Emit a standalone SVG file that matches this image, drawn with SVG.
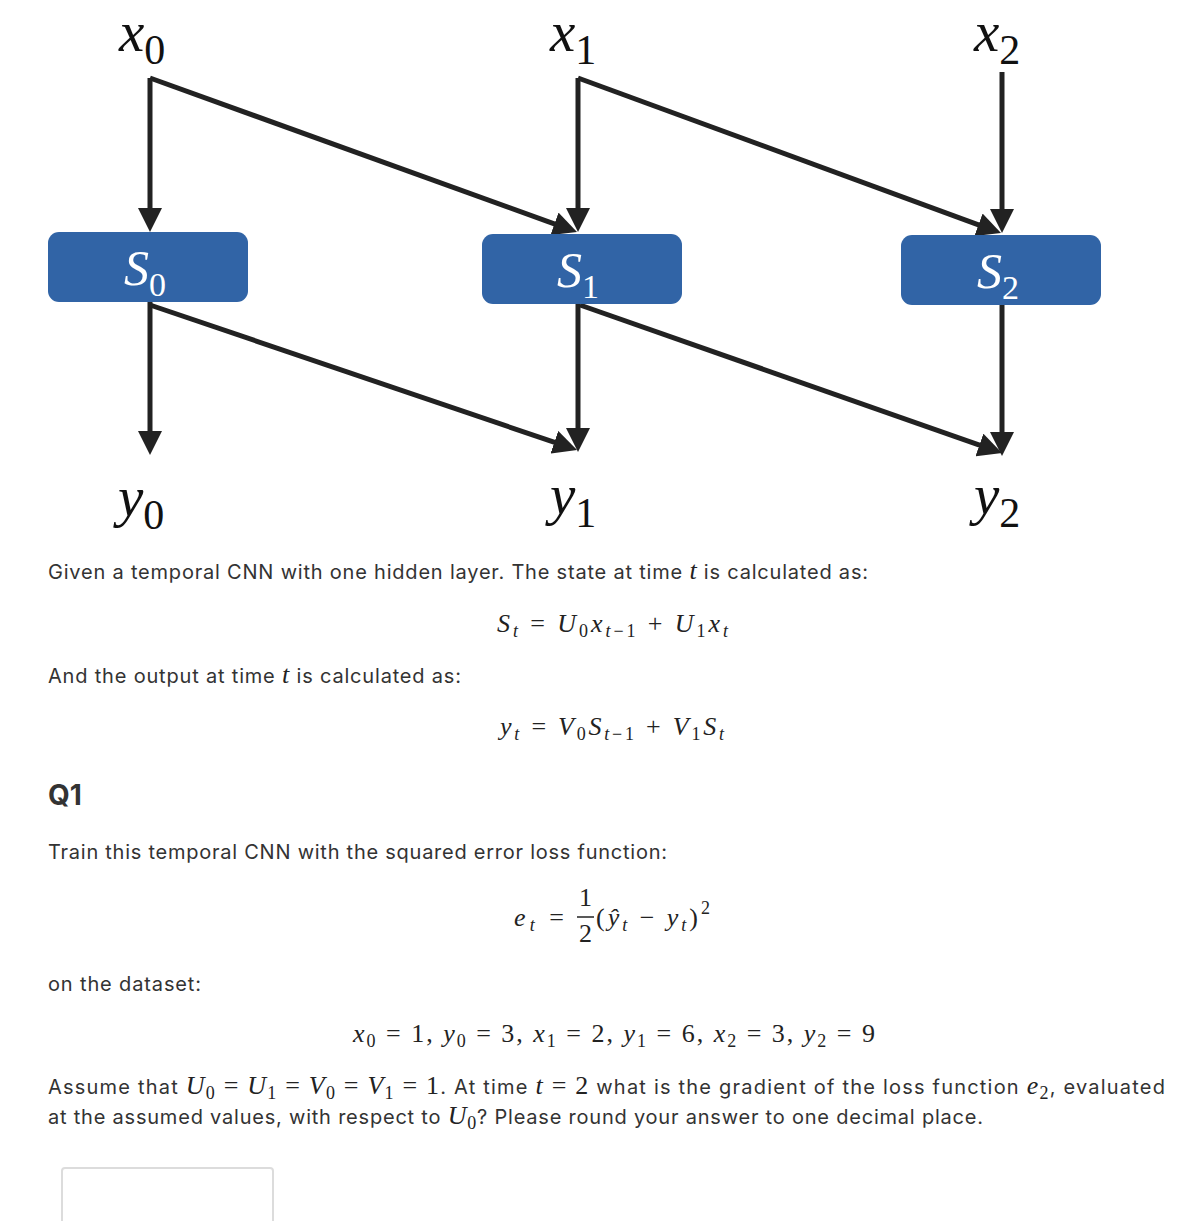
<svg xmlns="http://www.w3.org/2000/svg" width="1200" height="1221" viewBox="0 0 1200 1221">
<style>
.bg{fill:#ffffff}
.box{fill:#3164a6}
.conn{stroke:#222;stroke-width:5;fill:none}
.lbl{font-family:"Liberation Serif",serif;font-style:italic;fill:#111;font-size:57px}
.sub{font-style:normal;font-size:42px}
.slbl{font-family:"Liberation Serif",serif;font-style:italic;fill:#fff;font-size:50px}
.ssub{font-style:normal;font-size:34px}
.txt{font-family:Inter,"Liberation Sans",sans-serif;font-size:20px;fill:#333}
.q{font-family:Inter,"Liberation Sans",sans-serif;font-size:28px;font-weight:bold;fill:#333}
.m{font-family:"Liberation Serif",serif;font-size:26px;fill:#222}
.mi{font-style:italic}
.ms{font-size:18px}
.input{fill:#fff;stroke:#dcdcdc;stroke-width:2}
</style>
<defs>
<marker id="ah" markerUnits="userSpaceOnUse" markerWidth="24" markerHeight="24" refX="16" refY="12" orient="auto">
<path d="M0,0 L24,12 L0,24 z" fill="#222"/>
</marker>
</defs>
<rect class="bg" x="0" y="0" width="1200" height="1221"/>

<g id="connectors">
<path class="conn" d="M150,78 L150,224" marker-end="url(#ah)"/>
<path class="conn" d="M150,78 L569.5,229.3" marker-end="url(#ah)"/>
<path class="conn" d="M578,78 L578,224" marker-end="url(#ah)"/>
<path class="conn" d="M578,78 L993.5,230.3" marker-end="url(#ah)"/>
<path class="conn" d="M1002,72 L1002,225" marker-end="url(#ah)"/>
<path class="conn" d="M150,302 L150,447" marker-end="url(#ah)"/>
<path class="conn" d="M150,305 L569.5,447.4" marker-end="url(#ah)"/>
<path class="conn" d="M578,304 L578,444" marker-end="url(#ah)"/>
<path class="conn" d="M580,305 L994.5,450.3" marker-end="url(#ah)"/>
<path class="conn" d="M1002,305 L1002,448" marker-end="url(#ah)"/>
</g>

<g id="x0"><text class="lbl" x="119" y="51">x<tspan class="sub" dy="13">0</tspan></text></g>
<g id="x1"><text class="lbl" x="550" y="51">x<tspan class="sub" dy="13">1</tspan></text></g>
<g id="x2"><text class="lbl" x="974" y="51">x<tspan class="sub" dy="13">2</tspan></text></g>

<g id="S0"><rect class="box" x="48" y="232" width="200" height="70" rx="11"/><text class="slbl" x="124" y="285">S<tspan class="ssub" dy="11">0</tspan></text></g>
<g id="S1"><rect class="box" x="482" y="234" width="200" height="70" rx="11"/><text class="slbl" x="557" y="287">S<tspan class="ssub" dy="11">1</tspan></text></g>
<g id="S2"><rect class="box" x="901" y="235" width="200" height="70" rx="11"/><text class="slbl" x="977" y="288">S<tspan class="ssub" dy="11">2</tspan></text></g>

<g id="y0"><text class="lbl" x="118" y="516">y<tspan class="sub" dy="13">0</tspan></text></g>
<g id="y1"><text class="lbl" x="550" y="514">y<tspan class="sub" dy="13">1</tspan></text></g>
<g id="y2"><text class="lbl" x="974" y="514">y<tspan class="sub" dy="13">2</tspan></text></g>

<g id="text">
<text class="txt" x="48" y="579" textLength="820" lengthAdjust="spacing">Given a temporal CNN with one hidden layer. The state at time <tspan class="m mi">t</tspan> is calculated as:</text>
<text class="m" x="497" y="632" textLength="231" lengthAdjust="spacing"><tspan class="mi">S</tspan><tspan class="mi ms" dy="5">t</tspan><tspan dy="-5"> = </tspan><tspan class="mi">U</tspan><tspan class="ms" dy="5">0</tspan><tspan class="mi" dy="-5">x</tspan><tspan class="ms" dy="5"><tspan class="mi">t</tspan>−1</tspan><tspan dy="-5"> + </tspan><tspan class="mi">U</tspan><tspan class="ms" dy="5">1</tspan><tspan class="mi" dy="-5">x</tspan><tspan class="mi ms" dy="5">t</tspan></text>
<text class="txt" x="48" y="683" textLength="413" lengthAdjust="spacing">And the output at time <tspan class="m mi">t</tspan> is calculated as:</text>
<text class="m" x="500" y="735" textLength="224" lengthAdjust="spacing"><tspan class="mi">y</tspan><tspan class="mi ms" dy="5">t</tspan><tspan dy="-5"> = </tspan><tspan class="mi">V</tspan><tspan class="ms" dy="5">0</tspan><tspan class="mi" dy="-5">S</tspan><tspan class="ms" dy="5"><tspan class="mi">t</tspan>−1</tspan><tspan dy="-5"> + </tspan><tspan class="mi">V</tspan><tspan class="ms" dy="5">1</tspan><tspan class="mi" dy="-5">S</tspan><tspan class="mi ms" dy="5">t</tspan></text>
<text class="q" x="48" y="805">Q1</text>
<text class="txt" x="48" y="859" textLength="619" lengthAdjust="spacing">Train this temporal CNN with the squared error loss function:</text>
<text class="m" x="514" y="926" textLength="50" lengthAdjust="spacing"><tspan class="mi">e</tspan><tspan class="mi ms" dy="5">t</tspan><tspan dy="-5"> =</tspan></text>
<text class="m" x="579" y="906">1</text>
<line x1="577" y1="917" x2="594" y2="917" stroke="#222" stroke-width="1.5"/>
<text class="m" x="579" y="942">2</text>
<text class="m" x="596" y="926" textLength="114" lengthAdjust="spacing">(<tspan class="mi">ŷ</tspan><tspan class="mi ms" dy="5">t</tspan><tspan dy="-5"> − </tspan><tspan class="mi">y</tspan><tspan class="mi ms" dy="5">t</tspan><tspan dy="-5">)</tspan><tspan class="ms" dy="-12">2</tspan></text>
<text class="txt" x="48" y="991" textLength="153" lengthAdjust="spacing">on the dataset:</text>
<text class="m" x="353" y="1042" textLength="522" lengthAdjust="spacing"><tspan class="mi">x</tspan><tspan class="ms" dy="5">0</tspan><tspan dy="-5"> = 1, </tspan><tspan class="mi">y</tspan><tspan class="ms" dy="5">0</tspan><tspan dy="-5"> = 3, </tspan><tspan class="mi">x</tspan><tspan class="ms" dy="5">1</tspan><tspan dy="-5"> = 2, </tspan><tspan class="mi">y</tspan><tspan class="ms" dy="5">1</tspan><tspan dy="-5"> = 6, </tspan><tspan class="mi">x</tspan><tspan class="ms" dy="5">2</tspan><tspan dy="-5"> = 3, </tspan><tspan class="mi">y</tspan><tspan class="ms" dy="5">2</tspan><tspan dy="-5"> = 9</tspan></text>
<text class="txt" x="48" y="1094" textLength="1117" lengthAdjust="spacing">Assume that <tspan class="m mi">U</tspan><tspan class="m ms" dy="5">0</tspan><tspan class="m" dy="-5"> = </tspan><tspan class="m mi">U</tspan><tspan class="m ms" dy="5">1</tspan><tspan class="m" dy="-5"> = </tspan><tspan class="m mi">V</tspan><tspan class="m ms" dy="5">0</tspan><tspan class="m" dy="-5"> = </tspan><tspan class="m mi">V</tspan><tspan class="m ms" dy="5">1</tspan><tspan class="m" dy="-5"> = 1</tspan>. At time <tspan class="m mi">t</tspan><tspan class="m"> = 2</tspan> what is the gradient of the loss function <tspan class="m mi">e</tspan><tspan class="m ms" dy="5">2</tspan><tspan dy="-5">, evaluated</tspan></text>
<text class="txt" x="48" y="1124" textLength="935" lengthAdjust="spacing">at the assumed values, with respect to <tspan class="m mi">U</tspan><tspan class="m ms" dy="5">0</tspan><tspan dy="-5">? Please round your answer to one decimal place.</tspan></text>
</g>

<g id="answer-box"><rect class="input" x="62" y="1168" width="211" height="60" rx="3"/></g>
</svg>
